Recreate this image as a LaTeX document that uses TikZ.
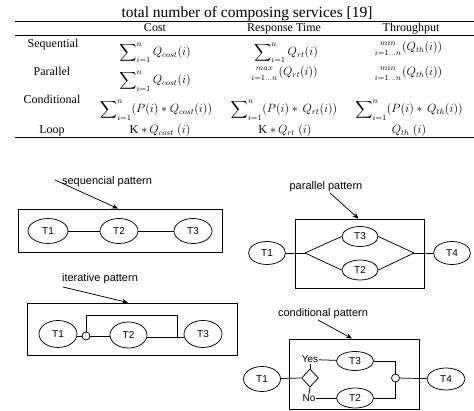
\documentclass[tikz,border=0pt]{standalone}
\usepackage{amsmath}
\usepackage{fontspec}
\setmainfont{Liberation Serif}
\setsansfont{Liberation Sans}
\usetikzlibrary{arrows.meta,shapes.geometric}
\begin{document}
\begin{tikzpicture}[x=1pt,y=-1pt,
  tbl/.style={font=\fontsize{12}{14}\selectfont, inner sep=0pt, anchor=base},
  rule/.style={line width=0.8pt},
  tk/.style={ellipse, draw, line width=0.75pt, minimum width=38pt, minimum height=23pt, inner sep=0pt, font=\sffamily\fontsize{10}{12}\selectfont},
  plabel/.style={font=\sffamily\fontsize{11}{13}\selectfont, inner sep=0pt},
  frame/.style={draw, line width=0.9pt, inner sep=0pt},
  conn/.style={line width=0.75pt},
  ptr/.style={line width=0.75pt, -{Stealth[length=6pt,width=5pt]}},
  junc/.style={circle, draw, line width=0.75pt, minimum size=8pt, inner sep=0pt},
  small/.style={font=\sffamily\fontsize{10}{12}\selectfont, inner sep=0.5pt},
]
\useasboundingbox (0,0) rectangle (474,411);

% ---------- table ----------
\node[tbl, font=\fontsize{15.5}{17}\selectfont] (title) at (247,18) {total number of composing services [19]};
\coordinate (r1a) at (15,21);  \coordinate (r1b) at (474,21);
\coordinate (r2a) at (15,35);  \coordinate (r2b) at (474,35);
\coordinate (r3a) at (15,137); \coordinate (r3b) at (474,137);
\draw[rule] (r1a) -- (r1b);
\draw[rule] (r2a) -- (r2b);
\draw[rule] (r3a) -- (r3b);

\node[tbl] (hc) at (155,31.5) {Cost};
\node[tbl] (hr) at (284,31.5) {Response Time};
\node[tbl] (ht) at (411,31.5) {Throughput};

% Sequential
\node[tbl] (l1) at (53,48) {Sequential};
\node[tbl] (c1) at (155,55.5) {$\displaystyle\sum\nolimits_{i=1}^{n} Q_{cost}(i)$};
\node[tbl] (t1) at (286,55.5) {$\displaystyle\sum\nolimits_{i=1}^{n} Q_{rt}(i)$};
\node[tbl] (p1) at (408,51) {$\genfrac{}{}{0pt}{1}{min}{i=1\ldots n}(Q_{th}(i))$};
% Parallel
\node[tbl] (l2) at (52,76) {Parallel};
\node[tbl] (c2) at (155,84) {$\displaystyle\sum\nolimits_{i=1}^{n} Q_{cost}(i)$};
\node[tbl] (t2) at (284,76) {$\genfrac{}{}{0pt}{1}{max}{i=1\ldots n}(Q_{rt}(i))$};
\node[tbl] (p2) at (408,76) {$\genfrac{}{}{0pt}{1}{min}{i=1\ldots n}(Q_{th}(i))$};
% Conditional
\node[tbl] (l3) at (52,104) {Conditional};
\node[tbl] (c3) at (156,113) {$\displaystyle\sum\nolimits_{i=1}^{n}(P(i) * Q_{cost}(i))$};
\node[tbl] (t3) at (284,113) {$\displaystyle\sum\nolimits_{i=1}^{n}(P(i) * \,Q_{rt}(i))$};
\node[tbl] (p3) at (409,113) {$\displaystyle\sum\nolimits_{i=1}^{n}(P(i) * \,Q_{th}(i))$};
% Loop
\node[tbl] (l4) at (52,134) {Loop};
\node[tbl] (c4) at (160,134) {K $*\,Q_{cost}\;(i)$};
\node[tbl] (t4) at (285,134) {K $*\,Q_{rt}\;(i)$};
\node[tbl] (p4) at (409,134) {$Q_{th}\;(i)$};

% ---------- sequential pattern ----------
\node[plabel] (sql) at (107,182) {sequencial pattern};
\node[frame, minimum width=204pt, minimum height=43pt] (sqbox) at (120,230.5) {};
\coordinate (sqa) at (55,180);
\draw[ptr] (sqa) -- ([xshift=-2pt]sqbox.north);
\node[tk, minimum width=40pt, minimum height=25pt] (s1) at (48,231) {T1};
\node[tk, minimum width=38pt, minimum height=25pt] (s2) at (119,231) {T2};
\node[tk, minimum width=38pt, minimum height=25pt] (s3) at (193,231) {T3};
\draw[conn] (s1) -- (s2);
\draw[conn] (s2) -- (s3);

% ---------- parallel pattern ----------
\node[plabel] (pal) at (326,187) {parallel pattern};
\node[frame, minimum width=129pt, minimum height=69pt] (pabox) at (359.5,253.5) {};
\coordinate (paa) at (330,193);
\draw[ptr] (paa) -- ([xshift=-1pt]pabox.north);
\node[tk, minimum width=37pt, minimum height=23pt] (p1n) at (267,253) {T1};
\node[tk, minimum width=36pt, minimum height=20pt] (p3n) at (360,236.5) {T3};
\node[tk, minimum width=36pt, minimum height=20pt] (p2n) at (360,270) {T2};
\node[tk, minimum width=37pt, minimum height=23pt] (p4n) at (452,253) {T4};
\coordinate (pfork) at (305,253);
\coordinate (pjoin) at (414,253);
\draw[conn] (p1n) -- (pfork);
\draw[conn] (pfork) -- (p3n.west);
\draw[conn] (pfork) -- (p2n.west);
\draw[conn] (p3n.east) -- (pjoin);
\draw[conn] (p2n.east) -- (pjoin);
\draw[conn] (pjoin) -- (p4n);

% ---------- iterative pattern ----------
\node[plabel] (itl) at (100,279) {iterative pattern};
\node[frame, minimum width=210pt, minimum height=52pt] (itbox) at (132,329) {};
\coordinate (ita) at (63,287);
\draw[ptr] (ita) -- ([xshift=-4pt]itbox.north);
\node[tk, minimum width=38pt, minimum height=27pt] (i1) at (58,334) {T1};
\node[junc] (ic) at (86,336) {};
\node[tk, minimum width=37pt, minimum height=26pt] (i2) at (128.5,335) {T2};
\node[tk, minimum width=38pt, minimum height=27pt] (i3) at (203,334) {T3};
\coordinate (iloop) at (177,315);
\draw[conn] (i1.east |- ic.west) -- (ic.west);
\draw[conn] (ic.east) -- (i2.west |- ic.east);
\draw[conn] (i2.east |- 0,337) -- (i3.west |- 0,337);
\draw[conn] (ic.north) |- (iloop) -- (iloop |- 0,337);

% ---------- conditional pattern ----------
\node[plabel] (cdl) at (323,314) {conditional pattern};
\node[frame, minimum width=130pt, minimum height=70pt] (cdbox) at (354,374) {};
\coordinate (cda) at (318,320);
\draw[ptr] (cda) -- ([xshift=-2pt]cdbox.north);
\node[tk, minimum width=37pt, minimum height=25pt] (c1n) at (262,379) {T1};
\node[diamond, draw, line width=0.75pt, minimum width=17pt, minimum height=18pt, inner sep=0pt] (cd) at (310,378) {};
\node[small] (yes) at (310,359.5) {Yes};
\node[small] (no) at (309,398) {No};
\node[tk, minimum width=37pt, minimum height=19pt] (c3n) at (355,361) {T3};
\node[tk, minimum width=37pt, minimum height=20pt] (c2n) at (355,398) {T2};
\node[junc] (cc) at (395.5,378) {};
\node[tk, minimum width=38pt, minimum height=22pt] (c4n) at (446,379) {T4};
\draw[conn] (c1n) -- (cd.west);
\draw[conn] (cd.north) -- (yes.south);
\draw[conn] (cd.south) -- (no.north);
\draw[conn] (yes) -- (c3n);
\draw[conn] (no) -- (c2n);
\draw[conn] (c3n.east) -| (cc.north);
\draw[conn] (c2n.east) -| (cc.south);
\draw[conn] (cc) -- (c4n);
\end{tikzpicture}
\end{document}
